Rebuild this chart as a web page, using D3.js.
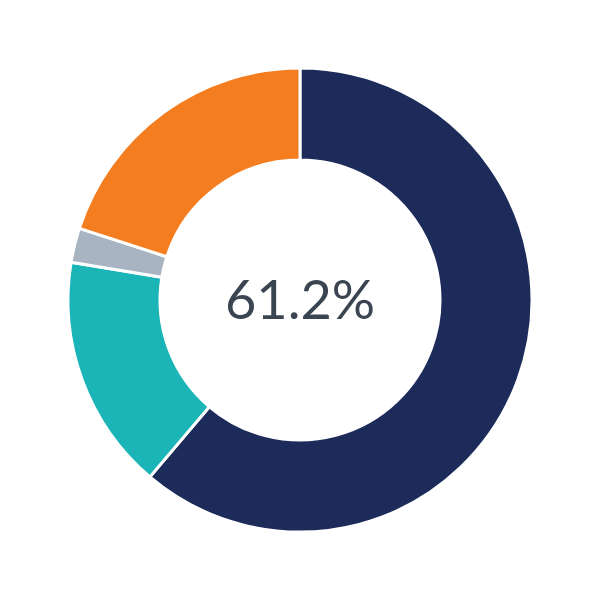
<!DOCTYPE html>
<html>
<head>
<meta charset="utf-8">
<script src="https://cdn.jsdelivr.net/npm/d3@7"></script>
<style>
  html, body { margin: 0; padding: 0; background: #fff; }
</style>
</head>
<body>
<div id="chart"></div>
<script>
// slice values, clockwise from 12 o'clock
const categories = ["A", "B", "C", "D"];
const values = [61.2, 16.4, 2.4, 20.0];
const colors = ["#1c2b5a", "#1bb5b8", "#a9b4c2", "#f47d20"];
const centerLabel = "61.2%";

const width = 600, height = 600;
const outerR = 232, innerR = 140;

const data = categories.map((c, i) => ({ cat: c, value: values[i] }));

const svg = d3.select("#chart")
    .append("svg")
    .attr("width", width)
    .attr("height", height);

const g = svg.append("g")
    .attr("transform", `translate(${width / 2},${height / 2})`);

const pie = d3.pie()
    .sort(null)
    .value(d => d.value);

const arc = d3.arc()
    .innerRadius(innerR)
    .outerRadius(outerR);

const color = d3.scaleOrdinal().domain(categories).range(colors);

g.selectAll("path.slice")
    .data(pie(data))
    .enter()
    .append("path")
    .attr("class", "slice")
    .attr("d", arc)
    .attr("fill", d => color(d.data.cat))
    .attr("stroke", "#fff")
    .attr("stroke-width", 3);

g.append("text")
    .attr("text-anchor", "middle")
    .attr("dy", "0.35em")
    .attr("font-family", "Lato, sans-serif")
    .attr("font-size", 54)
    .attr("fill", "#3b4552")
    .text(centerLabel);
</script>
</body>
</html>
